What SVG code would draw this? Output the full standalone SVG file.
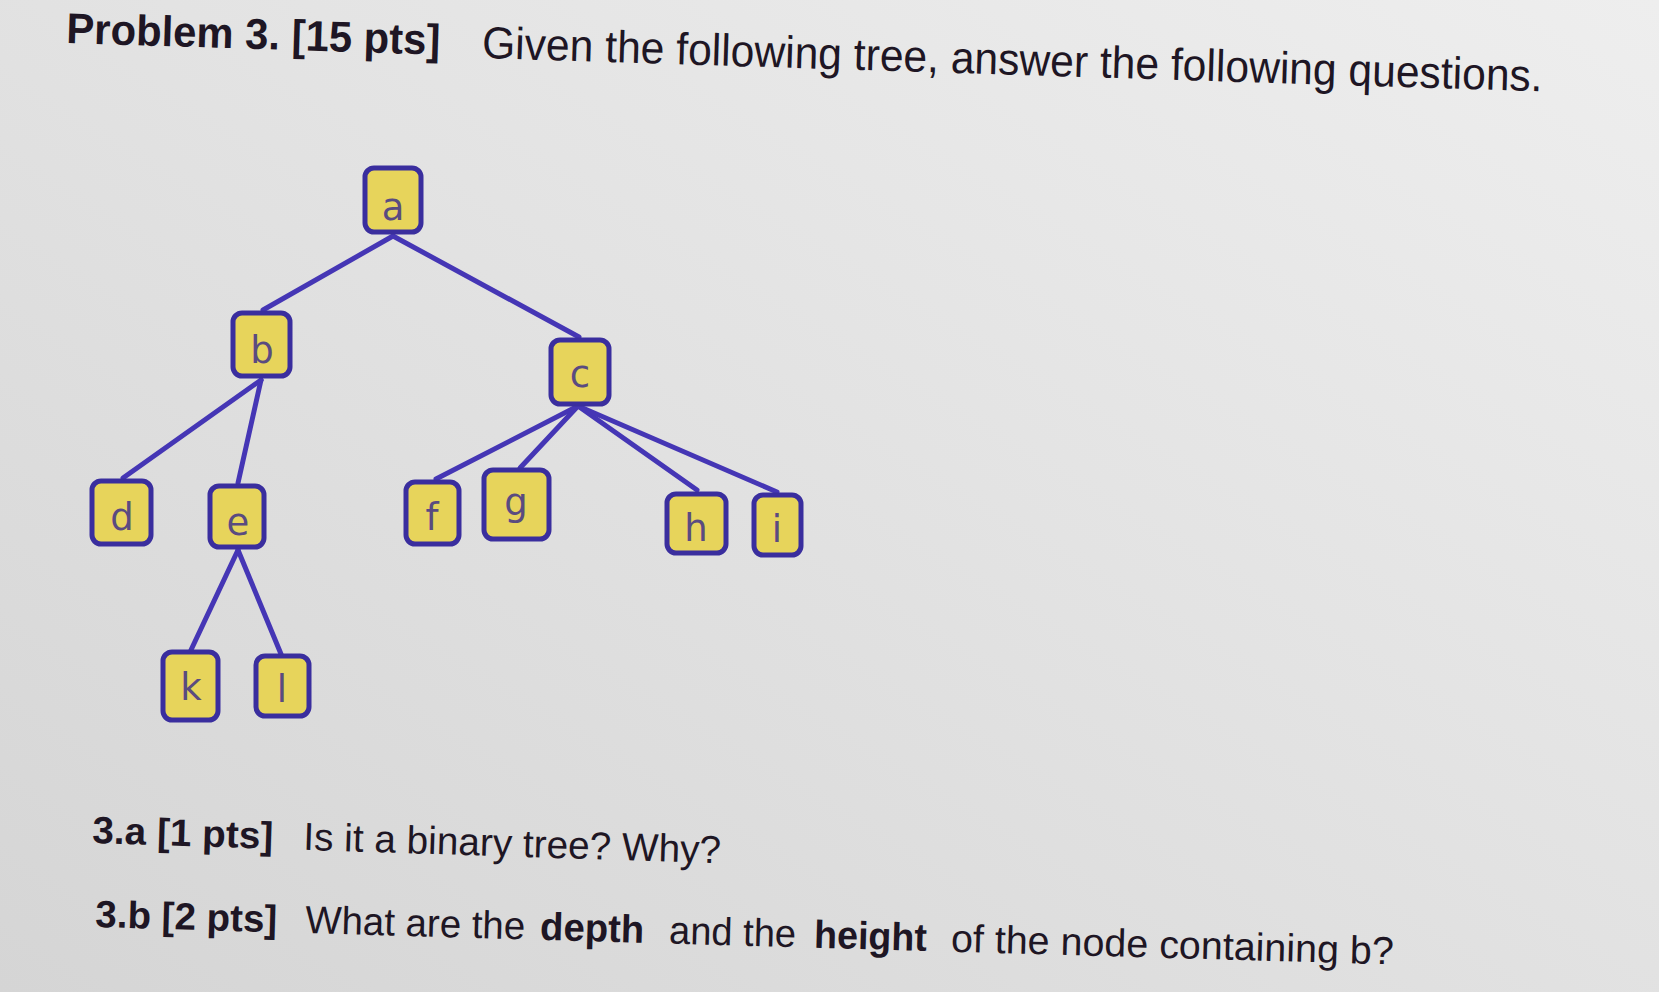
<svg xmlns="http://www.w3.org/2000/svg" width="1659" height="992" viewBox="0 0 1659 992">
  <defs>
    <linearGradient id="bg" x1="0" y1="1" x2="1" y2="0">
      <stop offset="0" stop-color="#d5d5d5"/>
      <stop offset="0.55" stop-color="#e3e3e3"/>
      <stop offset="1" stop-color="#eeeeee"/>
    </linearGradient>
    <style>
      .txt { font-family: "Liberation Sans", Arial, sans-serif; fill: #1e1624; }
      .b { font-weight: bold; }
      .node rect { fill: #e7d45b; stroke: #3a2e9e; stroke-width: 5; }
      .node text { font-family: "DejaVu Sans", Verdana, sans-serif; font-size: 37px; fill: #5a4b80; text-anchor: middle; }
      .edges line { stroke: #4536b5; stroke-width: 5; stroke-linecap: round; }
    </style>
  </defs>
  <rect x="0" y="0" width="1659" height="992" fill="url(#bg)"/>

  <g id="title" transform="rotate(1.8 66 43)">
    <text class="txt b" x="66" y="43" font-size="43" textLength="374" lengthAdjust="spacingAndGlyphs">Problem 3. [15 pts]</text>
    <text class="txt" x="482" y="45" font-size="45" textLength="1061" lengthAdjust="spacingAndGlyphs">Given the following tree, answer the following questions.</text>
  </g>

  <g id="connectors" class="edges">
    <line x1="393" y1="236" x2="263" y2="310"/>
    <line x1="393" y1="236" x2="579" y2="337"/>
    <line x1="261" y1="380" x2="123" y2="478"/>
    <line x1="261" y1="380" x2="238" y2="483"/>
    <line x1="238" y1="550" x2="191" y2="650"/>
    <line x1="238" y1="550" x2="281" y2="654"/>
    <line x1="578" y1="406" x2="436" y2="479"/>
    <line x1="578" y1="406" x2="520" y2="468"/>
    <line x1="578" y1="406" x2="697" y2="490"/>
    <line x1="578" y1="406" x2="777" y2="492"/>
  </g>

  <g id="node-a" class="node"><rect x="365" y="168" width="56" height="64" rx="9"/><text x="393" y="220">a</text></g>
  <g id="node-b" class="node"><rect x="233" y="313" width="57" height="63" rx="9"/><text x="262" y="363">b</text></g>
  <g id="node-c" class="node"><rect x="551" y="340" width="58" height="64" rx="9"/><text x="580" y="387">c</text></g>
  <g id="node-d" class="node"><rect x="92" y="481" width="59" height="63" rx="9"/><text x="122" y="530">d</text></g>
  <g id="node-e" class="node"><rect x="210" y="486" width="54" height="61" rx="9"/><text x="238" y="535">e</text></g>
  <g id="node-f" class="node"><rect x="406" y="482" width="53" height="62" rx="9"/><text x="432" y="530">f</text></g>
  <g id="node-g" class="node"><rect x="484" y="470" width="65" height="69" rx="9"/><text x="516" y="515">g</text></g>
  <g id="node-h" class="node"><rect x="667" y="494" width="59" height="59" rx="9"/><text x="696" y="541">h</text></g>
  <g id="node-i" class="node"><rect x="754" y="495" width="47" height="60" rx="9"/><text x="777" y="542">i</text></g>
  <g id="node-k" class="node"><rect x="163" y="652" width="55" height="68" rx="9"/><text x="191" y="700">k</text></g>
  <g id="node-l" class="node"><rect x="256" y="656" width="53" height="60" rx="9"/><text x="282" y="702">l</text></g>

  <g id="question-a" transform="rotate(1.85 92 843)">
    <text class="txt b" x="92" y="843" font-size="38" textLength="181" lengthAdjust="spacingAndGlyphs">3.a [1 pts]</text>
    <text class="txt" x="303" y="843" font-size="39" textLength="418" lengthAdjust="spacingAndGlyphs">Is it a binary tree? Why?</text>
  </g>

  <g id="question-b" transform="rotate(1.65 95 927)">
    <text class="txt b" x="95" y="927" font-size="38" textLength="182" lengthAdjust="spacingAndGlyphs">3.b [2 pts]</text>
    <text class="txt" x="305" y="927" font-size="39" textLength="220" lengthAdjust="spacingAndGlyphs">What are the</text>
    <text class="txt b" x="540" y="927" font-size="39" textLength="104" lengthAdjust="spacingAndGlyphs">depth</text>
    <text class="txt" x="669" y="927" font-size="39" textLength="127" lengthAdjust="spacingAndGlyphs">and the</text>
    <text class="txt b" x="814" y="927" font-size="39" textLength="113" lengthAdjust="spacingAndGlyphs">height</text>
    <text class="txt" x="951" y="927" font-size="39" textLength="443" lengthAdjust="spacingAndGlyphs">of the node containing b?</text>
  </g>
</svg>
